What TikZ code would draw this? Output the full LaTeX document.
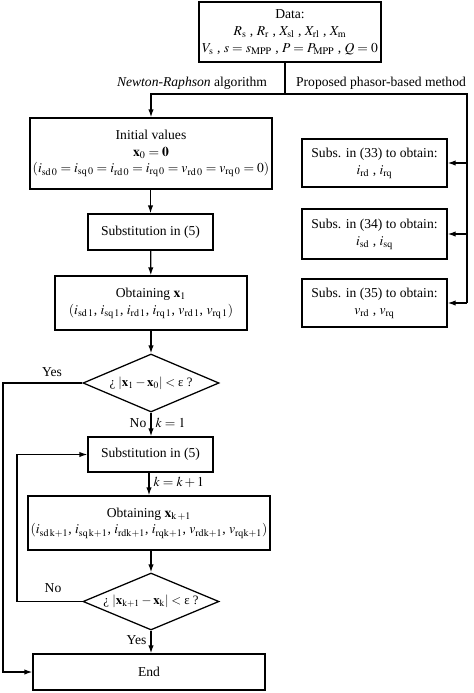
\documentclass[tikz,border=0pt]{standalone}
\usepackage{amsmath,amssymb,bm}
\usepackage{mathptmx}
\usepackage[no-math]{fontspec}
\setmainfont{Liberation Serif}
\usepackage{tikz}
\usetikzlibrary{arrows.meta, positioning, shapes.geometric, calc}
\tikzset{
  fbox/.style={draw=black, fill=white, line width=0.95pt, align=center,
               inner sep=2pt, font=\fontsize{10.2}{12.6}\selectfont},
  dbox/.style={draw=black, fill=white, line width=0.95pt, diamond, aspect=2.3,
               inner sep=0pt, minimum width=102pt, minimum height=43.5pt,
               font=\fontsize{9.6}{11}\selectfont},
  lbl/.style={font=\fontsize{10.2}{12}\selectfont, inner sep=1pt},
  arr/.style={-{Latex[length=6pt,width=4pt]}, line width=0.95pt},
  ln/.style={line width=0.95pt},
}

\begin{document}
\begin{tikzpicture}[x=0.75pt, y=-0.75pt, line join=miter]
  \useasboundingbox (0,0) rectangle (474,693);

  %% ── Start ──
  \node[fbox, minimum width=136.5pt, minimum height=45pt] (data) at (290,32)
    {Data:\\
     $R_\mathrm{s}$ , $R_\mathrm{r}$ , $X_\mathrm{sl}$ , $X_\mathrm{rl}$ , $X_\mathrm{m}$\\
     $V_\mathrm{s}$ , $s = s_\mathrm{MPP}$ , $P = P_\mathrm{MPP}$ , $Q = 0$};

  %% ── Newton-Raphson (left) ──
  \node[fbox, minimum width=180pt, minimum height=53.25pt] (init) at (151,153.5)
    {Initial values\\
     $\mathbf{x}_0 = \mathbf{0}$\\
     $(i_{\mathrm{sd}\,0} = i_{\mathrm{sq}\,0} = i_{\mathrm{rd}\,0} = i_{\mathrm{rq}\,0}
       = v_{\mathrm{rd}\,0} = v_{\mathrm{rq}\,0} = 0)$};
  \node[fbox, minimum width=93.75pt, minimum height=27pt] (subst1) at (150.5,232)
    {Substitution in (5)};
  \node[fbox, minimum width=144pt, minimum height=40.5pt] (obt1) at (151,303)
    {Obtaining $\mathbf{x}_1$\\
     $(i_{\mathrm{sd}\,1}$, $i_{\mathrm{sq}\,1}$, $i_{\mathrm{rd}\,1}$, $i_{\mathrm{rq}\,1}$,
      $v_{\mathrm{rd}\,1}$, $v_{\mathrm{rq}\,1})$};
  \node[dbox] (check1) at (151,383)
    {¿ $|\mathbf{x}_1 - \mathbf{x}_0| < \text{ε}$ ?};
  \node[fbox, minimum width=93.75pt, minimum height=26.25pt] (subst2) at (150.5,454.5)
    {Substitution in (5)};
  \node[fbox, minimum width=177pt, minimum height=40.5pt] (obtk) at (149,523)
    {Obtaining $\mathbf{x}_{\mathrm{k}\,+1}$\\
     $(i_{\mathrm{sd\,k+1}}$, $i_{\mathrm{sq\,k+1}}$, $i_{\mathrm{rdk+1}}$, $i_{\mathrm{rqk+1}}$,
      $v_{\mathrm{rdk+1}}$, $v_{\mathrm{rqk+1}})$};
  \node[dbox, minimum height=42.75pt] (checkk) at (151,601.5)
    {¿ $|\mathbf{x}_{\mathrm{k+1}} - \mathbf{x}_\mathrm{k}| < \text{ε}$ ?};
  \node[fbox, minimum width=174pt, minimum height=27pt] (stop) at (149,672)
    {End};

  %% ── Phasor-based (right) ──
  \node[fbox, minimum width=108.75pt, minimum height=36pt] (sub33) at (374.5,163)
    {Subs. in (33) to obtain:\\ $i_\mathrm{rd}$ , $i_\mathrm{rq}$};
  \node[fbox, minimum width=108.75pt, minimum height=37.5pt] (sub34) at (374.5,234)
    {Subs. in (34) to obtain:\\ $i_\mathrm{sd}$ , $i_\mathrm{sq}$};
  \node[fbox, minimum width=108.75pt, minimum height=36pt] (sub35) at (374.5,303)
    {Subs. in (35) to obtain:\\ $v_\mathrm{rd}$ , $v_\mathrm{rq}$};

  %% Branching
  \coordinate (split) at (285,94);
  \coordinate (rail) at (467,94);
  \draw[ln] (data.south -| split) -- (split);
  \draw[arr] (split) -| (init.north);
  \draw[ln] (split) -- (rail) -- (rail |- sub35.east);
  \draw[arr] (rail |- sub33.east) -- (sub33.east);
  \draw[arr] (rail |- sub34.east) -- (sub34.east);
  \draw[arr] (rail |- sub35.east) -- (sub35.east);
  \node[lbl] (nrlbl) at (192,83) {\textit{Newton-Raphson} algorithm};
  \node[lbl] (phlbl) at (381,83) {Proposed phasor-based method};

  %% Main column
  \draw[arr] (init.south -| subst1.north) -- (subst1.north);
  \draw[arr] (subst1) -- (obt1);
  \draw[arr] (obt1.south -| check1.north) -- (check1.north);
  \draw[arr] (check1.south) -- (check1.south |- subst2.north)
    node[lbl, pos=0.45, left=2pt] (no1) {No}
    node[lbl, pos=0.45, right=2pt] (k1) {$k = 1$};
  \draw[arr] (subst2.south -| obtk.north) -- (obtk.north)
    node[lbl, pos=0.45, right=2pt] (kinc) {$k = k + 1$};
  \draw[arr] (obtk.south -| checkk.north) -- (checkk.north);
  \draw[arr] (checkk.south) -- (checkk.south |- stop.north)
    node[lbl, pos=0.4, left=2pt] (yes2) {Yes};

  %% Loops
  \coordinate (outer) at (3,0);
  \coordinate (inner) at (17,0);
  \draw[arr] (check1.west) -- (check1.west -| outer) -- (outer |- stop.west) -- (stop.west);
  \draw[arr] (checkk.west) -- (checkk.west -| inner) -- (inner |- subst2.west) -- (subst2.west);
  \node[lbl] (yes1) at (52,372) {Yes};
  \node[lbl] (no2) at (53,588) {No};
\end{tikzpicture}
\end{document}
